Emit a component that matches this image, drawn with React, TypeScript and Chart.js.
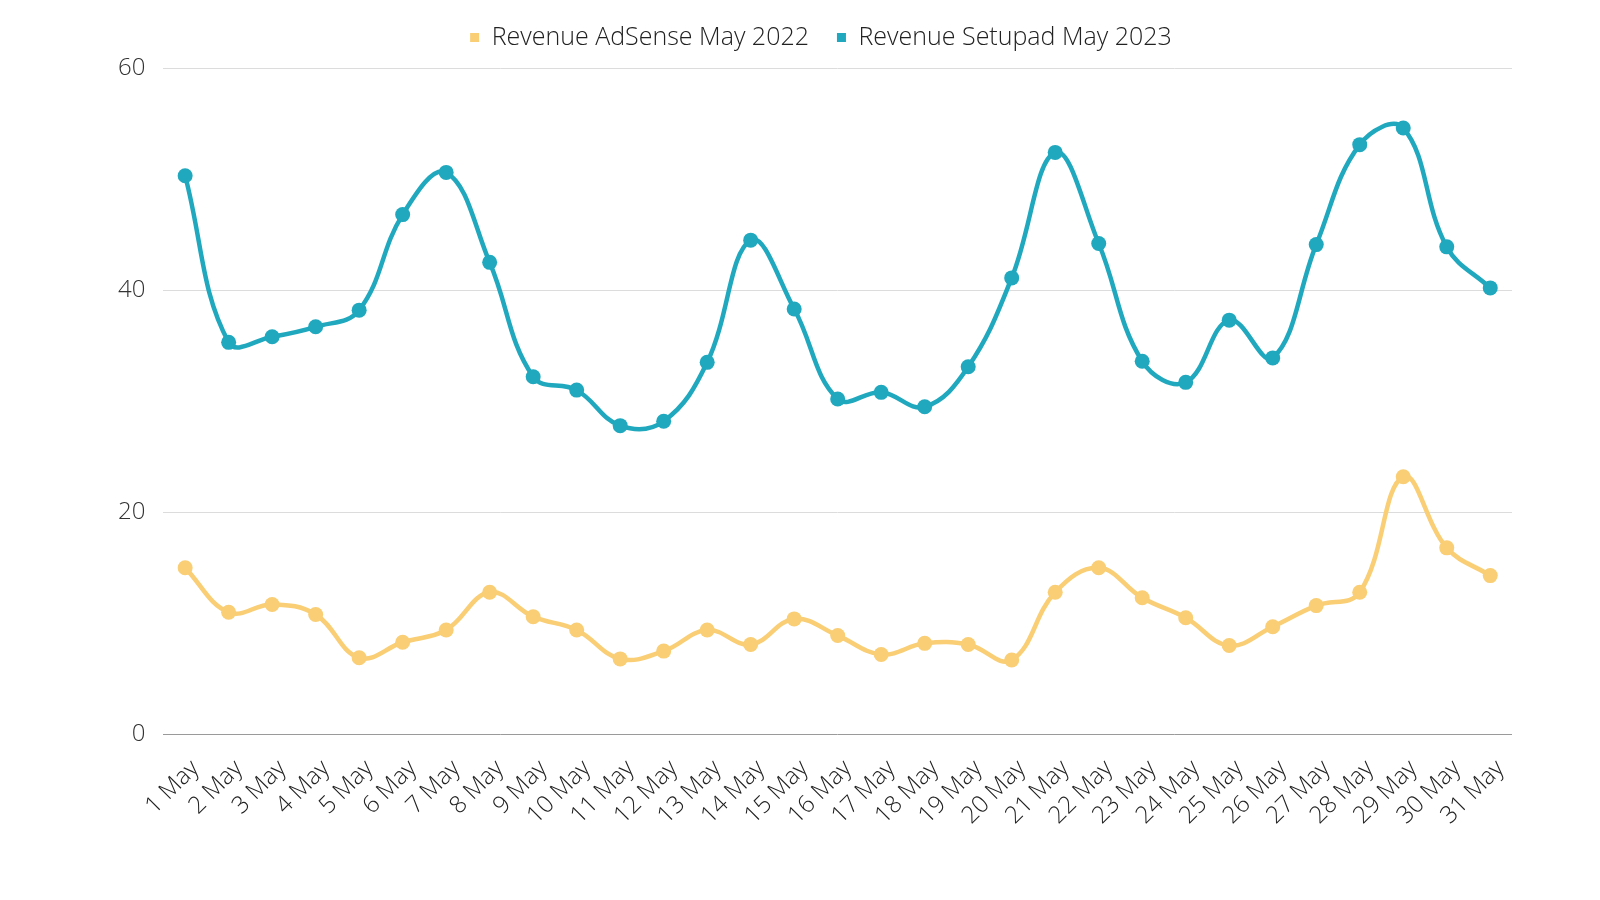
import { useEffect, useRef } from 'react';
import { Chart, ChartConfiguration, registerables } from 'chart.js';

Chart.register(...registerables);

const days = [
  '1 May', '2 May', '3 May', '4 May', '5 May', '6 May', '7 May', '8 May', '9 May', '10 May',
  '11 May', '12 May', '13 May', '14 May', '15 May', '16 May', '17 May', '18 May', '19 May', '20 May',
  '21 May', '22 May', '23 May', '24 May', '25 May', '26 May', '27 May', '28 May', '29 May', '30 May', '31 May',
];

const adsense2022 = [
  15.0, 11.0, 11.7, 10.8, 6.9, 8.3, 9.4, 12.8, 10.6, 9.4,
  6.8, 7.5, 9.4, 8.1, 10.4, 8.9, 7.2, 8.2, 8.1, 6.7,
  12.8, 15.0, 12.3, 10.5, 8.0, 9.7, 11.6, 12.8, 23.2, 16.8, 14.3,
];

const setupad2023 = [
  50.3, 35.3, 35.8, 36.7, 38.2, 46.8, 50.6, 42.5, 32.2, 31.0,
  27.8, 28.2, 33.5, 44.5, 38.3, 30.2, 30.8, 29.5, 33.1, 41.1,
  52.4, 44.2, 33.6, 31.7, 37.3, 33.9, 44.1, 53.1, 54.6, 43.9, 40.2,
];

const YELLOW = '#F9CE74';
const TEAL = '#1FA8BE';
const FONT = '"Open Sans", sans-serif';

// a bit more room under the legend, and nudge it right to sit like the original
const legendSpacer = {
  id: 'legendSpacer',
  beforeInit(chart: any) {
    const origFit = chart.legend.fit;
    chart.legend.fit = function fit() {
      origFit.bind(chart.legend)();
      this.height += 8;
      if (this.lineWidths && this.lineWidths.length) this.lineWidths[0] -= 30;
    };
  },
};

export default function App() {
  const canvasRef = useRef<HTMLCanvasElement>(null);
  const chartRef = useRef<Chart | null>(null);

  useEffect(() => {
    if (!canvasRef.current) return;
    if (chartRef.current) chartRef.current.destroy();

    const config: ChartConfiguration = {
      type: 'line',
      data: {
        labels: days,
        datasets: [
          {
            label: 'Revenue AdSense May 2022',
            data: adsense2022,
            borderColor: YELLOW,
            backgroundColor: YELLOW,
            pointBackgroundColor: YELLOW,
            pointBorderWidth: 0,
            pointRadius: 7.5,
            borderWidth: 4.5,
            tension: 0.4,
          },
          {
            label: 'Revenue Setupad May 2023',
            data: setupad2023,
            borderColor: TEAL,
            backgroundColor: TEAL,
            pointBackgroundColor: TEAL,
            pointBorderWidth: 0,
            pointRadius: 7.5,
            borderWidth: 4.5,
            tension: 0.4,
          },
        ],
      },
      options: {
        responsive: false,
        maintainAspectRatio: false,
        animation: false,
        layout: { padding: { left: 100, right: 88, top: -3, bottom: 58 } },
        plugins: {
          legend: {
            position: 'top',
            labels: {
              usePointStyle: true,
              pointStyle: 'rect',
              boxWidth: 9,
              boxHeight: 9,
              padding: 28,
              color: '#222',
              font: { family: FONT, size: 25, weight: 300 },
            },
          },
          tooltip: { enabled: false },
        },
        scales: {
          x: {
            offset: true,
            grid: { display: false },
            border: { display: false },
            ticks: {
              autoSkip: false,
              maxRotation: 45,
              minRotation: 45,
              color: '#222',
              padding: 12,
              labelOffset: 10,
              font: { family: FONT, size: 24, weight: 300 },
            },
          },
          y: {
            min: 0,
            max: 60,
            ticks: {
              stepSize: 20,
              padding: 18,
              color: '#333',
              font: { family: FONT, size: 24, weight: 300 },
            },
            border: { display: false },
            grid: {
              drawTicks: false,
              lineWidth: 1,
              color: (ctx) => (ctx.tick && ctx.tick.value === 0 ? '#9a9a9a' : '#dcdcdc'),
            },
          },
        },
      },
      plugins: [legendSpacer],
    };

    chartRef.current = new Chart(canvasRef.current, config);
    return () => {
      if (chartRef.current) chartRef.current.destroy();
    };
  }, []);

  return (
    <div style={{ position: 'fixed', left: 0, top: 0, width: 1600, height: 900, background: '#fff' }}>
      <canvas ref={canvasRef} width={1600} height={900} />
    </div>
  );
}
